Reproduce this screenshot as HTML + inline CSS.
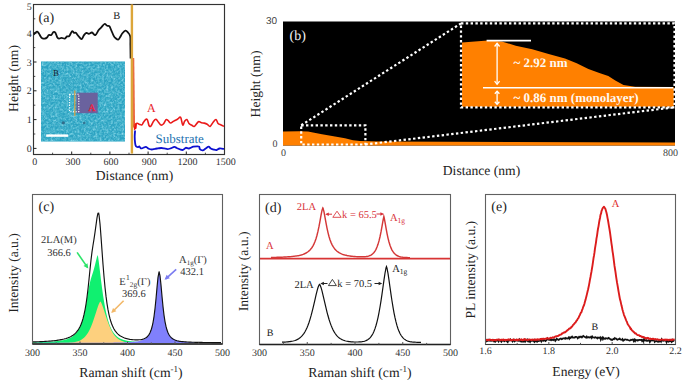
<!DOCTYPE html>
<html><head><meta charset="utf-8"><style>
html,body{margin:0;padding:0;background:#fff;}
body{width:685px;height:385px;overflow:hidden;}
svg{display:block;}
text{font-family:"Liberation Serif",serif;text-rendering:geometricPrecision;}
</style></head><body>
<svg width="685" height="385" viewBox="0 0 685 385">
<defs>
<filter id="noiseL" x="0" y="0" width="100%" height="100%"><feTurbulence type="fractalNoise" baseFrequency="0.45" numOctaves="2" seed="4" result="n"/><feColorMatrix in="n" type="matrix" values="0 0 0 0 0.36  0 0 0 0 0.78  0 0 0 0 0.90  1.8 0 0 0 -0.75"/><feComposite in2="SourceGraphic" operator="in"/></filter>
<filter id="noiseD" x="0" y="0" width="100%" height="100%"><feTurbulence type="fractalNoise" baseFrequency="0.45" numOctaves="2" seed="9" result="n"/><feColorMatrix in="n" type="matrix" values="0 0 0 0 0.08  0 0 0 0 0.52  0 0 0 0 0.64  1.8 0 0 0 -0.75"/><feComposite in2="SourceGraphic" operator="in"/></filter>
</defs>
<rect x="41" y="61.5" width="84" height="80" fill="#2ca2c2"/>
<rect x="41" y="61.5" width="84" height="80" fill="#fff" filter="url(#noiseL)" opacity="1"/>
<rect x="41" y="61.5" width="84" height="80" fill="#000" filter="url(#noiseD)" opacity="1"/>
<rect x="76.4" y="92.7" width="21.3" height="20.5" fill="#6a629e"/>
<rect x="69.6" y="94.3" width="9.2" height="17.4" fill="none" stroke="#fff" stroke-width="1.1" stroke-dasharray="1.3 1.3"/>
<line x1="74.8" y1="90.5" x2="74.8" y2="115.9" stroke="#dca040" stroke-width="1.2"/>
<text x="88.3" y="110.6" font-size="10" fill="#f0203c" stroke="#f0203c" stroke-width="0.3">A</text>
<text x="53" y="75.8" font-size="9" fill="#102030">B</text>
<rect x="46.2" y="134.4" width="22" height="2.4" fill="#fff"/>
<circle cx="63.3" cy="122.8" r="1.6" fill="#2a5a7a" opacity="0.8"/><circle cx="84.2" cy="123" r="1.3" fill="#2a5a7a" opacity="0.7"/>
<rect x="33.5" y="4.5" width="191.0" height="150.0" fill="none" stroke="#333" stroke-width="1.15"/>
<line x1="33.5" y1="148.4" x2="36.5" y2="148.4" stroke="#222" stroke-width="1"/>
<text x="31.8" y="152.0" font-size="10" fill="#333" text-anchor="end" >0</text>
<line x1="33.5" y1="119.60000000000001" x2="36.5" y2="119.60000000000001" stroke="#222" stroke-width="1"/>
<text x="31.8" y="123.2" font-size="10" fill="#333" text-anchor="end" >1</text>
<line x1="33.5" y1="90.80000000000001" x2="36.5" y2="90.80000000000001" stroke="#222" stroke-width="1"/>
<text x="31.8" y="94.4" font-size="10" fill="#333" text-anchor="end" >2</text>
<line x1="33.5" y1="62.0" x2="36.5" y2="62.0" stroke="#222" stroke-width="1"/>
<text x="31.8" y="65.6" font-size="10" fill="#333" text-anchor="end" >3</text>
<line x1="33.5" y1="33.2" x2="36.5" y2="33.2" stroke="#222" stroke-width="1"/>
<text x="31.8" y="36.800000000000004" font-size="10" fill="#333" text-anchor="end" >4</text>
<text x="31.8" y="10.000000000000005" font-size="10" fill="#333" text-anchor="end" >5</text>
<line x1="33.5" y1="134.0" x2="35.3" y2="134.0" stroke="#222" stroke-width="0.8"/>
<line x1="33.5" y1="105.2" x2="35.3" y2="105.2" stroke="#222" stroke-width="0.8"/>
<line x1="33.5" y1="76.4" x2="35.3" y2="76.4" stroke="#222" stroke-width="0.8"/>
<line x1="33.5" y1="47.60000000000001" x2="35.3" y2="47.60000000000001" stroke="#222" stroke-width="0.8"/>
<line x1="33.5" y1="18.80000000000001" x2="35.3" y2="18.80000000000001" stroke="#222" stroke-width="0.8"/>
<text x="34.7" y="164.6" font-size="10" fill="#333" text-anchor="middle" >0</text>
<line x1="71.7" y1="154.5" x2="71.7" y2="151.5" stroke="#222" stroke-width="1"/>
<text x="72.9" y="164.6" font-size="10" fill="#333" text-anchor="middle" >300</text>
<line x1="109.9" y1="154.5" x2="109.9" y2="151.5" stroke="#222" stroke-width="1"/>
<text x="111.10000000000001" y="164.6" font-size="10" fill="#333" text-anchor="middle" >600</text>
<line x1="148.1" y1="154.5" x2="148.1" y2="151.5" stroke="#222" stroke-width="1"/>
<text x="149.29999999999998" y="164.6" font-size="10" fill="#333" text-anchor="middle" >900</text>
<line x1="186.3" y1="154.5" x2="186.3" y2="151.5" stroke="#222" stroke-width="1"/>
<text x="187.5" y="164.6" font-size="10" fill="#333" text-anchor="middle" >1200</text>
<text x="225.7" y="164.6" font-size="10" fill="#333" text-anchor="middle" >1500</text>
<line x1="52.6" y1="154.5" x2="52.6" y2="152.7" stroke="#222" stroke-width="0.8"/>
<line x1="90.8" y1="154.5" x2="90.8" y2="152.7" stroke="#222" stroke-width="0.8"/>
<line x1="129.0" y1="154.5" x2="129.0" y2="152.7" stroke="#222" stroke-width="0.8"/>
<line x1="167.2" y1="154.5" x2="167.2" y2="152.7" stroke="#222" stroke-width="0.8"/>
<line x1="205.4" y1="154.5" x2="205.4" y2="152.7" stroke="#222" stroke-width="0.8"/>
<text x="38.6" y="22" font-size="14" fill="#222" text-anchor="start" >(a)</text>
<text x="113.3" y="18.8" font-size="10.5" fill="#222" text-anchor="start" >B</text>
<text x="147" y="111.6" font-size="12" fill="#e8252a" text-anchor="start" >A</text>
<text x="155.5" y="143.4" font-size="13" fill="#1d72b0" text-anchor="start" >Substrate</text>
<text x="134.5" y="179.5" font-size="13.6" fill="#222" text-anchor="middle" >Distance (nm)</text>
<text x="0" y="0" font-size="13.6" fill="#222" text-anchor="middle" transform="translate(18.2,78.5) rotate(-90)">Height (nm)</text>
<path d="M33.80,34.60 C34.05,34.30 34.75,33.28 35.30,32.80 C35.85,32.32 36.50,31.58 37.10,31.70 C37.70,31.82 38.28,32.65 38.90,33.50 C39.52,34.35 40.25,36.02 40.80,36.80 C41.35,37.58 41.53,37.90 42.20,38.20 C42.87,38.50 44.00,38.72 44.80,38.60 C45.60,38.48 46.33,38.10 47.00,37.50 C47.67,36.90 48.08,35.42 48.80,35.00 C49.52,34.58 50.52,35.50 51.30,35.00 C52.08,34.50 52.82,32.37 53.50,32.00 C54.18,31.63 54.78,31.93 55.40,32.80 C56.02,33.67 56.60,36.23 57.20,37.20 C57.80,38.17 58.27,38.48 59.00,38.60 C59.73,38.72 60.63,37.90 61.60,37.90 C62.57,37.90 63.90,38.85 64.80,38.60 C65.70,38.35 66.27,36.82 67.00,36.40 C67.73,35.98 68.35,36.95 69.20,36.10 C70.05,35.25 71.30,31.85 72.10,31.30 C72.90,30.75 73.38,32.55 74.00,32.80 C74.62,33.05 75.02,32.20 75.80,32.80 C76.58,33.40 77.73,35.35 78.70,36.40 C79.67,37.45 80.72,39.32 81.60,39.10 C82.48,38.88 83.20,36.15 84.00,35.10 C84.80,34.05 85.60,33.00 86.40,32.80 C87.20,32.60 87.87,33.95 88.80,33.90 C89.73,33.85 90.92,32.30 92.00,32.50 C93.08,32.70 94.22,35.47 95.30,35.10 C96.38,34.73 97.50,31.58 98.50,30.30 C99.50,29.02 100.30,28.45 101.30,27.40 C102.30,26.35 103.50,24.27 104.50,24.00 C105.50,23.73 106.50,25.43 107.30,25.80 C108.10,26.17 108.63,25.45 109.30,26.20 C109.97,26.95 110.57,28.68 111.30,30.30 C112.03,31.92 112.97,34.57 113.70,35.90 C114.43,37.23 114.95,37.67 115.70,38.30 C116.45,38.93 117.45,39.90 118.20,39.70 C118.95,39.50 119.53,38.13 120.20,37.10 C120.87,36.07 121.33,34.57 122.20,33.50 C123.07,32.43 124.47,30.90 125.40,30.70 C126.33,30.50 127.00,31.37 127.80,32.30 C128.60,33.23 129.77,34.18 130.20,36.30 C130.63,38.42 130.33,41.28 130.40,45.00 C130.47,48.72 130.57,56.33 130.60,58.60" fill="none" stroke="#111" stroke-width="1.8" stroke-linejoin="round"/>
<path d="M134.20,126.00 C134.35,125.73 134.58,124.85 135.10,124.40 C135.62,123.95 136.57,123.30 137.30,123.30 C138.03,123.30 138.72,124.15 139.50,124.40 C140.28,124.65 141.33,125.17 142.00,124.80 C142.67,124.43 142.82,123.12 143.50,122.20 C144.18,121.28 145.43,119.67 146.10,119.30 C146.77,118.93 147.02,118.97 147.50,120.00 C147.98,121.03 148.45,124.47 149.00,125.50 C149.55,126.53 150.07,126.87 150.80,126.20 C151.53,125.53 152.55,122.65 153.40,121.50 C154.25,120.35 155.05,119.18 155.90,119.30 C156.75,119.42 157.65,121.23 158.50,122.20 C159.35,123.17 160.15,124.85 161.00,125.10 C161.85,125.35 162.75,124.60 163.60,123.70 C164.45,122.80 165.37,120.25 166.10,119.70 C166.83,119.15 167.27,119.85 168.00,120.40 C168.73,120.95 169.53,122.88 170.50,123.00 C171.47,123.12 172.65,121.72 173.80,121.10 C174.95,120.48 176.27,119.93 177.40,119.30 C178.53,118.67 179.72,116.35 180.60,117.30 C181.48,118.25 182.03,124.33 182.70,125.00 C183.37,125.67 183.92,122.22 184.60,121.30 C185.28,120.38 186.07,119.13 186.80,119.50 C187.53,119.87 188.22,122.58 189.00,123.50 C189.78,124.42 190.60,124.52 191.50,125.00 C192.40,125.48 193.25,126.95 194.40,126.40 C195.55,125.85 197.23,122.30 198.40,121.70 C199.57,121.10 200.42,122.57 201.40,122.80 C202.38,123.03 203.33,122.87 204.30,123.10 C205.27,123.33 206.23,123.65 207.20,124.20 C208.17,124.75 209.13,126.70 210.10,126.40 C211.07,126.10 212.02,123.55 213.00,122.40 C213.98,121.25 215.15,119.32 216.00,119.50 C216.85,119.68 217.25,122.58 218.10,123.50 C218.95,124.42 220.12,124.52 221.10,125.00 C222.08,125.48 223.52,126.17 224.00,126.40" fill="none" stroke="#ea1a1a" stroke-width="1.6" stroke-linejoin="round"/>
<path d="M133.6,124.5 L137,124 L136.5,128.5 L134,130.5 Z" fill="#f01010"/>
<path d="M133.2,58 L134.2,58 L134.9,126 L133.2,128 Z" fill="#e84818"/>
<path d="M135.10,130.50 C135.03,131.53 134.70,134.63 134.70,136.70 C134.70,138.77 134.92,141.35 135.10,142.90 C135.28,144.45 135.35,145.28 135.80,146.00 C136.25,146.72 137.22,147.13 137.80,147.20 C138.38,147.27 138.78,146.20 139.30,146.40 C139.82,146.60 140.30,148.13 140.90,148.40 C141.50,148.67 142.05,148.27 142.90,148.00 C143.75,147.73 145.03,146.67 146.00,146.80 C146.97,146.93 147.73,148.35 148.70,148.80 C149.67,149.25 150.77,149.50 151.80,149.50 C152.83,149.50 153.87,148.98 154.90,148.80 C155.93,148.62 156.95,148.53 158.00,148.40 C159.05,148.27 160.15,148.00 161.20,148.00 C162.25,148.00 163.27,148.22 164.30,148.40 C165.33,148.58 166.37,149.10 167.40,149.10 C168.43,149.10 169.33,148.78 170.50,148.40 C171.67,148.02 173.37,146.87 174.40,146.80 C175.43,146.73 175.37,147.47 176.70,148.00 C178.03,148.53 180.90,150.03 182.40,150.00 C183.90,149.97 184.60,148.05 185.70,147.80 C186.80,147.55 187.73,148.68 189.00,148.50 C190.27,148.32 191.97,147.07 193.30,146.70 C194.63,146.33 196.02,146.30 197.00,146.30 C197.98,146.30 198.72,146.22 199.20,146.70 C199.68,147.18 199.30,148.60 199.90,149.20 C200.50,149.80 201.83,150.42 202.80,150.30 C203.77,150.18 204.72,149.10 205.70,148.50 C206.68,147.90 207.85,146.70 208.70,146.70 C209.55,146.70 209.95,148.02 210.80,148.50 C211.65,148.98 212.82,149.35 213.80,149.60 C214.78,149.85 215.73,150.18 216.70,150.00 C217.67,149.82 218.38,148.68 219.60,148.50 C220.82,148.32 223.27,148.83 224.00,148.90" fill="none" stroke="#0c10d0" stroke-width="1.8" stroke-linejoin="round"/>
<line x1="131.9" y1="4.4" x2="131.9" y2="153.6" stroke="#dca63a" stroke-width="2.4"/>
<rect x="283" y="21.5" width="392" height="124" fill="#000"/>
<polygon points="283.00,131.50 299.00,131.30 308.00,131.60 313.00,132.40 322.00,134.20 335.00,136.40 345.00,138.30 353.00,140.20 360.00,140.90 380.00,141.60 675.00,142.60 675.00,145.50 283.00,145.50" fill="#ff8000"/>
<polygon points="462.00,106.80 462.00,42.40 487.70,40.60 501.80,41.50 515.80,45.70 532.20,49.20 548.60,53.90 565.00,58.60 576.70,63.30 588.40,69.10 600.10,73.30 608.30,76.10 615.30,80.40 623.50,85.00 635.20,86.70 673.80,87.10 673.80,106.80 462.00,106.80" fill="#ff8000"/>
<rect x="301.2" y="125.3" width="64.2" height="19.2" stroke="#fff" stroke-width="2.2" stroke-dasharray="2.4 2.4" fill="none"/>
<line x1="301.2" y1="125.3" x2="461" y2="23.4" stroke="#fff" stroke-width="2.2" stroke-dasharray="2.4 2.4" fill="none"/>
<line x1="365.4" y1="144.5" x2="674.5" y2="107.3" stroke="#fff" stroke-width="2.2" stroke-dasharray="2.4 2.4" fill="none"/>
<rect x="461" y="23.4" width="213.5" height="84" stroke="#fff" stroke-width="2.2" stroke-dasharray="2.4 2.4" fill="none"/>
<line x1="486.6" y1="40.6" x2="531" y2="40.6" stroke="#fff" stroke-width="1.6"/>
<line x1="483" y1="87.8" x2="673" y2="87.8" stroke="#fff" stroke-width="1.6"/>
<g stroke="#fff" stroke-width="1.3" fill="none"><line x1="497.1" y1="43.4" x2="497.1" y2="84.3"/><polyline points="494.6,46.5 497.1,43.4 499.6,46.5"/><polyline points="494.6,81.2 497.1,84.3 499.6,81.2"/><line x1="497.1" y1="91.3" x2="497.1" y2="104.2"/><polyline points="494.8,93.8 497.1,91.3 499.4,93.8"/><polyline points="494.8,101.7 497.1,104.2 499.4,101.7"/></g>
<text x="513.5" y="67.2" font-size="13" fill="#fff8f0" text-anchor="start" font-weight="bold">~ 2.92 nm</text>
<text x="513.5" y="102.4" font-size="13" fill="#fff8f0" text-anchor="start" font-weight="bold">~ 0.86 nm (monolayer)</text>
<text x="289.5" y="39.5" font-size="14" fill="#f4f4f4" text-anchor="start" >(b)</text>
<text x="277.2" y="23.9" font-size="10" fill="#444" text-anchor="end" style="font-family:'Liberation Sans',sans-serif">30</text>
<text x="277.4" y="146.8" font-size="10" fill="#444" text-anchor="end" >0</text>
<text x="283.5" y="155.6" font-size="10" fill="#444" text-anchor="middle" >0</text>
<text x="670.6" y="156.4" font-size="10" fill="#444" text-anchor="middle" >800</text>
<text x="481.5" y="174.7" font-size="13.6" fill="#222" text-anchor="middle" >Distance (nm)</text>
<text x="0" y="0" font-size="13.6" fill="#222" text-anchor="middle" transform="translate(260.2,84) rotate(-90)">Height (nm)</text>
<polygon points="33.00,342.90 33.00,342.28 34.00,342.26 35.00,342.24 36.00,342.21 37.00,342.19 38.00,342.16 39.00,342.13 40.00,342.10 41.00,342.07 42.00,342.04 43.00,342.00 44.00,341.97 45.00,341.92 46.00,341.88 47.00,341.83 48.00,341.78 49.00,341.73 50.00,341.67 51.00,341.61 52.00,341.54 53.00,341.46 54.00,341.38 55.00,341.29 56.00,341.20 57.00,341.09 58.00,340.97 59.00,340.84 60.00,340.70 61.00,340.55 62.00,340.37 63.00,340.18 64.00,339.96 65.00,339.71 66.00,339.44 67.00,339.13 68.00,338.77 69.00,338.37 70.00,337.91 71.00,337.39 72.00,336.78 73.00,336.08 74.00,335.27 75.00,334.33 76.00,333.22 77.00,331.93 78.00,330.40 79.00,328.60 80.00,326.69 81.00,324.48 82.00,321.83 83.00,318.63 84.00,314.74 85.00,310.00 86.00,304.23 87.00,297.72 88.00,292.05 89.00,286.76 90.00,282.19 91.00,278.45 92.00,275.27 93.00,272.18 94.00,268.81 95.00,264.96 96.00,260.76 97.00,256.81 97.78,255.09 98.00,256.15 98.67,260.81 99.00,263.38 100.00,271.67 100.35,274.56 101.00,279.94 102.00,287.76 103.00,294.92 104.00,301.35 105.00,307.03 106.00,312.00 107.00,316.30 108.00,320.01 109.00,323.20 110.00,325.92 111.00,328.24 112.00,330.22 113.00,331.91 114.00,333.34 115.00,334.56 116.00,335.61 117.00,336.49 118.00,337.25 119.00,337.90 120.00,338.46 121.00,338.94 122.00,339.35 123.00,339.71 124.00,340.02 125.00,340.29 126.00,340.52 127.00,340.72 128.00,340.90 129.00,341.06 130.00,341.20 131.00,341.32 132.00,341.43 133.00,341.53 134.00,341.62 135.00,341.70 136.00,341.77 137.00,341.83 138.00,341.89 139.00,341.94 140.00,341.99 141.00,342.04 142.00,342.08 143.00,342.11 144.00,342.15 145.00,342.18 146.00,342.21 147.00,342.24 148.00,342.26 149.00,342.29 150.00,342.31 151.00,342.33 152.00,342.35 153.00,342.37 154.00,342.39 155.00,342.40 156.00,342.42 157.00,342.43 158.00,342.45 159.00,342.46 159.11,342.46 159.12,342.46 160.00,342.47 161.00,342.48 162.00,342.50 163.00,342.51 164.00,342.52 165.00,342.53 166.00,342.54 167.00,342.55 168.00,342.55 169.00,342.56 170.00,342.57 171.00,342.58 172.00,342.59 173.00,342.59 174.00,342.60 175.00,342.61 176.00,342.61 177.00,342.62 178.00,342.63 179.00,342.63 180.00,342.64 181.00,342.64 182.00,342.65 183.00,342.65 184.00,342.66 185.00,342.66 186.00,342.67 187.00,342.67 188.00,342.68 189.00,342.68 190.00,342.68 191.00,342.69 192.00,342.69 193.00,342.70 194.00,342.70 195.00,342.70 196.00,342.71 197.00,342.71 198.00,342.71 199.00,342.72 200.00,342.72 201.00,342.72 202.00,342.73 203.00,342.73 204.00,342.73 205.00,342.73 206.00,342.74 207.00,342.74 208.00,342.74 209.00,342.74 210.00,342.75 211.00,342.75 212.00,342.75 213.00,342.75 214.00,342.76 215.00,342.76 216.00,342.76 217.00,342.76 218.00,342.76 219.00,342.77 220.00,342.77 221.00,342.77 221.00,342.90" fill="#10f070"/>
<polygon points="33.00,342.90 33.00,342.90 34.00,342.90 35.00,342.90 36.00,342.90 37.00,342.90 38.00,342.90 39.00,342.90 40.00,342.90 41.00,342.90 42.00,342.90 43.00,342.90 44.00,342.90 45.00,342.90 46.00,342.90 47.00,342.90 48.00,342.90 49.00,342.90 50.00,342.90 51.00,342.90 52.00,342.90 53.00,342.89 54.00,342.89 55.00,342.89 56.00,342.89 57.00,342.88 58.00,342.88 59.00,342.88 60.00,342.87 61.00,342.86 62.00,342.85 63.00,342.84 64.00,342.82 65.00,342.80 66.00,342.78 67.00,342.75 68.00,342.71 69.00,342.66 70.00,342.60 71.00,342.52 72.00,342.43 73.00,342.32 74.00,342.19 75.00,342.02 76.00,341.81 77.00,341.57 78.00,341.27 79.00,340.91 80.00,340.47 81.00,339.95 82.00,339.34 83.00,338.61 84.00,337.75 85.00,336.74 86.00,335.56 87.00,334.21 88.00,332.65 89.00,330.88 90.00,328.88 91.00,326.65 92.00,324.18 93.00,321.50 94.00,318.61 95.00,315.58 96.00,312.45 97.00,309.33 97.78,306.99 98.00,306.36 98.67,304.53 99.00,303.73 100.00,301.82 100.35,301.50 101.00,302.29 102.00,304.48 103.00,307.24 104.00,310.28 105.00,313.42 106.00,316.52 107.00,319.52 108.00,322.35 109.00,324.97 110.00,327.36 111.00,329.52 112.00,331.45 113.00,333.15 114.00,334.65 115.00,335.94 116.00,337.06 117.00,338.02 118.00,338.84 119.00,339.54 120.00,340.12 121.00,340.61 122.00,341.02 123.00,341.37 124.00,341.65 125.00,341.88 126.00,342.07 127.00,342.23 128.00,342.36 129.00,342.46 130.00,342.55 131.00,342.62 132.00,342.67 133.00,342.72 134.00,342.76 135.00,342.78 136.00,342.81 137.00,342.83 138.00,342.84 139.00,342.85 140.00,342.86 141.00,342.87 142.00,342.88 143.00,342.88 144.00,342.89 145.00,342.89 146.00,342.89 147.00,342.89 148.00,342.89 149.00,342.90 150.00,342.90 151.00,342.90 152.00,342.90 153.00,342.90 154.00,342.90 155.00,342.90 156.00,342.90 157.00,342.90 158.00,342.90 159.00,342.90 159.11,342.90 159.12,342.90 160.00,342.90 161.00,342.90 162.00,342.90 163.00,342.90 164.00,342.90 165.00,342.90 166.00,342.90 167.00,342.90 168.00,342.90 169.00,342.90 170.00,342.90 171.00,342.90 172.00,342.90 173.00,342.90 174.00,342.90 175.00,342.90 176.00,342.90 177.00,342.90 178.00,342.90 179.00,342.90 180.00,342.90 181.00,342.90 182.00,342.90 183.00,342.90 184.00,342.90 185.00,342.90 186.00,342.90 187.00,342.90 188.00,342.90 189.00,342.90 190.00,342.90 191.00,342.90 192.00,342.90 193.00,342.90 194.00,342.90 195.00,342.90 196.00,342.90 197.00,342.90 198.00,342.90 199.00,342.90 200.00,342.90 201.00,342.90 202.00,342.90 203.00,342.90 204.00,342.90 205.00,342.90 206.00,342.90 207.00,342.90 208.00,342.90 209.00,342.90 210.00,342.90 211.00,342.90 212.00,342.90 213.00,342.90 214.00,342.90 215.00,342.90 216.00,342.90 217.00,342.90 218.00,342.90 219.00,342.90 220.00,342.90 221.00,342.90 221.00,342.90" fill="#fdd07e"/>
<polygon points="33.00,342.90 33.00,342.88 34.00,342.88 35.00,342.88 36.00,342.87 37.00,342.87 38.00,342.87 39.00,342.87 40.00,342.87 41.00,342.87 42.00,342.87 43.00,342.87 44.00,342.87 45.00,342.87 46.00,342.87 47.00,342.87 48.00,342.87 49.00,342.87 50.00,342.87 51.00,342.87 52.00,342.86 53.00,342.86 54.00,342.86 55.00,342.86 56.00,342.86 57.00,342.86 58.00,342.86 59.00,342.86 60.00,342.86 61.00,342.86 62.00,342.86 63.00,342.85 64.00,342.85 65.00,342.85 66.00,342.85 67.00,342.85 68.00,342.85 69.00,342.85 70.00,342.85 71.00,342.84 72.00,342.84 73.00,342.84 74.00,342.84 75.00,342.84 76.00,342.84 77.00,342.83 78.00,342.83 79.00,342.83 80.00,342.83 81.00,342.82 82.00,342.82 83.00,342.82 84.00,342.82 85.00,342.81 86.00,342.81 87.00,342.81 88.00,342.81 89.00,342.80 90.00,342.80 91.00,342.80 92.00,342.79 93.00,342.79 94.00,342.78 95.00,342.78 96.00,342.77 97.00,342.77 97.78,342.77 98.00,342.76 98.67,342.76 99.00,342.76 100.00,342.75 100.35,342.75 101.00,342.75 102.00,342.74 103.00,342.73 104.00,342.73 105.00,342.72 106.00,342.71 107.00,342.70 108.00,342.69 109.00,342.68 110.00,342.67 111.00,342.66 112.00,342.65 113.00,342.63 114.00,342.62 115.00,342.60 116.00,342.59 117.00,342.57 118.00,342.55 119.00,342.53 120.00,342.50 121.00,342.48 122.00,342.45 123.00,342.42 124.00,342.39 125.00,342.35 126.00,342.31 127.00,342.27 128.00,342.22 129.00,342.16 130.00,342.10 131.00,342.03 132.00,341.96 133.00,341.87 134.00,341.77 135.00,341.66 136.00,341.53 137.00,341.38 138.00,341.21 139.00,341.01 140.00,340.78 141.00,340.50 142.00,340.18 143.00,339.79 144.00,339.31 145.00,338.73 146.00,338.02 147.00,337.13 148.00,336.00 149.00,334.55 150.00,332.68 151.00,330.21 152.00,326.93 153.00,322.52 154.00,316.60 155.00,308.76 156.00,298.83 157.00,287.48 158.00,277.12 159.00,271.92 159.11,271.86 159.12,271.86 160.00,275.41 161.00,285.05 162.00,296.46 163.00,306.80 164.00,315.09 165.00,321.39 166.00,326.09 167.00,329.59 168.00,332.21 169.00,334.19 170.00,335.72 171.00,336.91 172.00,337.84 173.00,338.59 174.00,339.20 175.00,339.69 176.00,340.10 177.00,340.44 178.00,340.72 179.00,340.97 180.00,341.17 181.00,341.35 182.00,341.50 183.00,341.63 184.00,341.75 185.00,341.85 186.00,341.94 187.00,342.02 188.00,342.09 189.00,342.15 190.00,342.21 191.00,342.26 192.00,342.30 193.00,342.34 194.00,342.38 195.00,342.41 196.00,342.44 197.00,342.47 198.00,342.50 199.00,342.52 200.00,342.54 201.00,342.56 202.00,342.58 203.00,342.60 204.00,342.61 205.00,342.63 206.00,342.64 207.00,342.66 208.00,342.67 209.00,342.68 210.00,342.69 211.00,342.70 212.00,342.71 213.00,342.72 214.00,342.72 215.00,342.73 216.00,342.74 217.00,342.75 218.00,342.75 219.00,342.76 220.00,342.76 221.00,342.77 221.00,342.90" fill="#8080fc"/>
<path d="M33.00,341.93 L34.00,341.90 L35.00,341.86 L36.00,341.83 L37.00,341.79 L38.00,341.75 L39.00,341.71 L40.00,341.67 L41.00,341.63 L42.00,341.58 L43.00,341.53 L44.00,341.47 L45.00,341.42 L46.00,341.36 L47.00,341.29 L48.00,341.22 L49.00,341.15 L50.00,341.07 L51.00,340.99 L52.00,340.90 L53.00,340.80 L54.00,340.70 L55.00,340.58 L56.00,340.46 L57.00,340.33 L58.00,340.19 L59.00,340.04 L60.00,339.87 L61.00,339.69 L62.00,339.49 L63.00,339.27 L64.00,339.03 L65.00,338.76 L66.00,338.47 L67.00,338.14 L68.00,337.78 L69.00,337.38 L70.00,336.92 L71.00,336.41 L72.00,335.84 L73.00,335.18 L74.00,334.44 L75.00,333.58 L76.00,332.59 L77.00,331.45 L78.00,330.11 L79.00,328.54 L80.00,326.69 L81.00,324.48 L82.00,321.83 L83.00,318.63 L84.00,314.74 L85.00,310.00 L86.00,304.23 L87.00,297.24 L88.00,288.95 L89.00,279.53 L90.00,269.55 L91.00,260.04 L92.00,251.93 L93.00,245.28 L94.00,239.12 L95.00,232.43 L96.00,225.05 L97.00,217.97 L97.78,214.00 L98.00,213.34 L98.67,213.22 L99.00,214.78 L100.00,223.86 L100.35,228.00 L101.00,236.63 L102.00,250.64 L103.00,264.26 L104.00,276.57 L105.00,287.20 L106.00,296.15 L107.00,303.56 L108.00,309.64 L109.00,314.62 L110.00,318.70 L111.00,322.06 L112.00,324.83 L113.00,327.12 L114.00,329.03 L115.00,330.64 L116.00,331.99 L117.00,333.14 L118.00,334.12 L119.00,334.96 L120.00,335.68 L121.00,336.31 L122.00,336.85 L123.00,337.32 L124.00,337.73 L125.00,338.09 L126.00,338.41 L127.00,338.68 L128.00,338.92 L129.00,339.13 L130.00,339.31 L131.00,339.46 L132.00,339.59 L133.00,339.70 L134.00,339.78 L135.00,339.83 L136.00,339.87 L137.00,339.87 L138.00,339.85 L139.00,339.79 L140.00,339.70 L141.00,339.56 L142.00,339.37 L143.00,339.11 L144.00,338.77 L145.00,338.31 L146.00,337.72 L147.00,336.95 L148.00,335.93 L149.00,334.57 L150.00,332.76 L151.00,330.32 L152.00,327.03 L153.00,322.56 L154.00,316.55 L155.00,308.65 L156.00,298.78 L157.00,287.65 L158.00,277.43 L159.00,271.95 L159.11,271.86 L159.12,271.86 L160.00,275.55 L161.00,285.09 L162.00,296.32 L163.00,306.65 L164.00,315.09 L165.00,321.59 L166.00,326.45 L167.00,330.06 L168.00,332.74 L169.00,334.75 L170.00,336.26 L171.00,337.42 L172.00,338.32 L173.00,339.03 L174.00,339.58 L175.00,340.03 L176.00,340.39 L177.00,340.69 L178.00,340.94 L179.00,341.14 L180.00,341.31 L181.00,341.46 L182.00,341.58 L183.00,341.69 L184.00,341.78 L185.00,341.86 L186.00,341.93 L187.00,342.00 L188.00,342.05 L189.00,342.10 L190.00,342.14 L191.00,342.18 L192.00,342.22 L193.00,342.25 L194.00,342.28 L195.00,342.31 L196.00,342.33 L197.00,342.35 L198.00,342.37 L199.00,342.39 L200.00,342.41 L201.00,342.43 L202.00,342.44 L203.00,342.46 L204.00,342.47 L205.00,342.48 L206.00,342.50 L207.00,342.51 L208.00,342.52 L209.00,342.53 L210.00,342.54 L211.00,342.55 L212.00,342.55 L213.00,342.56 L214.00,342.57 L215.00,342.58 L216.00,342.59 L217.00,342.59 L218.00,342.60 L219.00,342.60 L220.00,342.61 L221.00,342.62" fill="none" stroke="#111" stroke-width="1.15" stroke-linejoin="miter" stroke-miterlimit="10"/>
<rect x="32.5" y="194.5" width="190.0" height="149.5" fill="none" stroke="#606060" stroke-width="1.1"/>
<line x1="32.5" y1="344.0" x2="222.5" y2="344.0" stroke="#222" stroke-width="1.3"/>
<text x="32.5" y="355.9" font-size="10" fill="#333" text-anchor="middle" >300</text>
<line x1="56.25" y1="344.0" x2="56.25" y2="342.4" stroke="#555" stroke-width="1"/>
<line x1="80.0" y1="344.0" x2="80.0" y2="341.5" stroke="#555" stroke-width="1"/>
<text x="80.0" y="355.9" font-size="10" fill="#333" text-anchor="middle" >350</text>
<line x1="103.75" y1="344.0" x2="103.75" y2="342.4" stroke="#555" stroke-width="1"/>
<line x1="127.5" y1="344.0" x2="127.5" y2="341.5" stroke="#555" stroke-width="1"/>
<text x="127.5" y="355.9" font-size="10" fill="#333" text-anchor="middle" >400</text>
<line x1="151.25" y1="344.0" x2="151.25" y2="342.4" stroke="#555" stroke-width="1"/>
<line x1="175.0" y1="344.0" x2="175.0" y2="341.5" stroke="#555" stroke-width="1"/>
<text x="175.0" y="355.9" font-size="10" fill="#333" text-anchor="middle" >450</text>
<line x1="198.75" y1="344.0" x2="198.75" y2="342.4" stroke="#555" stroke-width="1"/>
<text x="222.5" y="355.9" font-size="10" fill="#333" text-anchor="middle" >500</text>
<text x="38.6" y="210.6" font-size="14" fill="#222" text-anchor="start" >(c)</text>
<text x="41.1" y="243.4" font-size="10.5" fill="#333" text-anchor="start" >2LA(M)</text>
<text x="47.2" y="256.1" font-size="10.5" fill="#333" text-anchor="start" >366.6</text>
<text x="119.2" y="284.6" font-size="10.5" fill="#333" text-anchor="start" >E<tspan font-size="7.5" dy="-4.2" dx="0.5">1</tspan><tspan font-size="7.5" dy="6.2">2g</tspan><tspan dy="-2">(Γ)</tspan></text>
<text x="122.1" y="297.4" font-size="10.5" fill="#333" text-anchor="start" >369.6</text>
<text x="179.1" y="262.6" font-size="10.5" fill="#333" text-anchor="start" >A<tspan font-size="7" dy="2">1g</tspan><tspan dy="-2">(Γ)</tspan></text>
<text x="180.3" y="274.9" font-size="10.5" fill="#333" text-anchor="start" >432.1</text>
<line x1="77.1" y1="252.4" x2="87.45" y2="267.37" stroke="#2ee46a" stroke-width="1.6"/>
<polygon points="88.3,268.6 83.52,265.89 87.45,263.17" fill="#2ee46a"/>
<line x1="123.6" y1="300.7" x2="112.26" y2="312.04" stroke="#f2b868" stroke-width="1.6"/>
<polygon points="111.2,313.1 113.01,307.91 116.39,311.29" fill="#f2b868"/>
<line x1="176.2" y1="269.3" x2="165.71" y2="278.79" stroke="#7b7cf0" stroke-width="1.6"/>
<polygon points="164.6,279.8 166.67,274.70 169.88,278.25" fill="#7b7cf0"/>
<text x="131" y="376.6" font-size="13.7" fill="#222" text-anchor="middle" >Raman shift (cm<tspan font-size="9" dy="-5">-1</tspan><tspan dy="5">)</tspan></text>
<text x="0" y="0" font-size="13.6" fill="#222" text-anchor="middle" transform="translate(18.0,273) rotate(-90)">Intensity (a.u.)</text>
<line x1="259.5" y1="258.7" x2="450.5" y2="258.7" stroke="#d83434" stroke-width="1.7"/>
<path d="M271.00,257.47 L272.00,257.45 L273.00,257.43 L274.00,257.41 L275.00,257.38 L276.00,257.36 L277.00,257.33 L278.00,257.30 L279.00,257.27 L280.00,257.23 L281.00,257.20 L282.00,257.16 L283.00,257.11 L284.00,257.07 L285.00,257.02 L286.00,256.96 L287.00,256.90 L288.00,256.83 L289.00,256.76 L290.00,256.68 L291.00,256.60 L292.00,256.50 L293.00,256.40 L294.00,256.28 L295.00,256.15 L296.00,256.01 L297.00,255.85 L298.00,255.67 L299.00,255.47 L300.00,255.24 L301.00,254.98 L302.00,254.69 L303.00,254.36 L304.00,253.97 L305.00,253.53 L306.00,253.02 L307.00,252.43 L308.00,251.74 L309.00,250.93 L310.00,249.97 L311.00,248.83 L312.00,247.47 L313.00,245.85 L314.00,243.89 L315.00,241.53 L316.00,238.68 L317.00,235.25 L318.00,231.18 L319.00,226.42 L320.00,221.07 L321.00,215.45 L322.00,210.38 L322.83,207.94 L323.00,208.15 L324.00,211.92 L325.00,217.31 L326.00,222.90 L327.00,228.08 L328.00,232.61 L329.00,236.46 L330.00,239.68 L331.00,242.36 L332.00,244.58 L333.00,246.42 L334.00,247.95 L335.00,249.23 L336.00,250.31 L337.00,251.21 L338.00,251.98 L339.00,252.64 L340.00,253.20 L341.00,253.68 L342.00,254.10 L343.00,254.47 L344.00,254.79 L345.00,255.07 L346.00,255.31 L347.00,255.53 L348.00,255.72 L349.00,255.89 L350.00,256.04 L351.00,256.18 L352.00,256.30 L353.00,256.40 L354.00,256.50 L355.00,256.58 L356.00,256.65 L357.00,256.71 L358.00,256.76 L359.00,256.80 L360.00,256.82 L361.00,256.83 L362.00,256.83 L363.00,256.81 L364.00,256.76 L365.00,256.68 L366.00,256.57 L367.00,256.42 L368.00,256.20 L369.00,255.92 L370.00,255.54 L371.00,255.04 L372.00,254.39 L373.00,253.55 L374.00,252.47 L375.00,251.09 L376.00,249.33 L377.00,247.10 L378.00,244.33 L379.00,240.91 L380.00,236.77 L381.00,231.88 L382.00,226.34 L383.00,220.52 L383.87,216.44 L384.00,216.85 L385.00,222.11 L386.00,227.94 L387.00,233.34 L388.00,238.06 L389.00,242.02 L390.00,245.28 L391.00,247.92 L392.00,250.04 L393.00,251.71 L394.00,253.04 L395.00,254.08 L396.00,254.89 L397.00,255.52 L398.00,256.01 L399.00,256.40 L400.00,256.70 L401.00,256.93 L402.00,257.11 L403.00,257.26 L404.00,257.37 L405.00,257.46 L406.00,257.52 L407.00,257.58 L408.00,257.62 L409.00,257.66 L410.00,257.68" fill="none" stroke="#d43838" stroke-width="1.45" stroke-miterlimit="10"/>
<path d="M282.00,342.19 L283.00,342.15 L284.00,342.10 L285.00,342.05 L286.00,341.98 L287.00,341.91 L288.00,341.82 L289.00,341.71 L290.00,341.58 L291.00,341.42 L292.00,341.24 L293.00,341.02 L294.00,340.76 L295.00,340.45 L296.00,340.08 L297.00,339.64 L298.00,339.12 L299.00,338.50 L300.00,337.77 L301.00,336.90 L302.00,335.89 L303.00,334.70 L304.00,333.31 L305.00,331.70 L306.00,329.83 L307.00,327.68 L308.00,325.24 L309.00,322.47 L310.00,319.36 L311.00,315.93 L312.00,312.17 L313.00,308.14 L314.00,303.89 L315.00,299.52 L316.00,295.19 L317.00,291.10 L318.00,287.54 L319.00,284.95 L319.52,284.33 L320.00,284.89 L321.00,287.42 L322.00,290.96 L323.00,295.03 L324.00,299.36 L325.00,303.73 L326.00,307.98 L327.00,312.03 L328.00,315.79 L329.00,319.24 L330.00,322.36 L331.00,325.14 L332.00,327.60 L333.00,329.75 L334.00,331.63 L335.00,333.25 L336.00,334.65 L337.00,335.85 L338.00,336.87 L339.00,337.74 L340.00,338.47 L341.00,339.09 L342.00,339.62 L343.00,340.06 L344.00,340.43 L345.00,340.74 L346.00,341.00 L347.00,341.22 L348.00,341.40 L349.00,341.56 L350.00,341.68 L351.00,341.78 L352.00,341.86 L353.00,341.93 L354.00,341.98 L355.00,342.01 L356.00,342.02 L357.00,342.02 L358.00,342.01 L359.00,341.97 L360.00,341.91 L361.00,341.82 L362.00,341.69 L363.00,341.52 L364.00,341.30 L365.00,341.01 L366.00,340.64 L367.00,340.16 L368.00,339.56 L369.00,338.80 L370.00,337.85 L371.00,336.67 L372.00,335.21 L373.00,333.43 L374.00,331.25 L375.00,328.64 L376.00,325.51 L377.00,321.83 L378.00,317.53 L379.00,312.59 L380.00,306.99 L381.00,300.79 L382.00,294.06 L383.00,287.00 L384.00,279.90 L385.00,273.26 L386.00,267.98 L386.48,266.60 L387.00,268.12 L388.00,273.47 L389.00,280.14 L390.00,287.24 L391.00,294.30 L392.00,301.01 L393.00,307.20 L394.00,312.77 L395.00,317.69 L396.00,321.97 L397.00,325.64 L398.00,328.75 L399.00,331.35 L400.00,333.51 L401.00,335.29 L402.00,336.74 L403.00,337.91 L404.00,338.86 L405.00,339.62 L406.00,340.23 L407.00,340.70 L408.00,341.08 L409.00,341.38 L410.00,341.61 L411.00,341.79 L412.00,341.93 L413.00,342.04 L414.00,342.13 L415.00,342.19 L416.00,342.24 L417.00,342.28 L418.00,342.31 L419.00,342.33 L420.00,342.35 L421.00,342.36" fill="none" stroke="#111" stroke-width="1.2" stroke-miterlimit="10"/>
<rect x="259.5" y="194.5" width="191.0" height="150.0" fill="none" stroke="#606060" stroke-width="1.1"/>
<line x1="259.5" y1="344.5" x2="450.5" y2="344.5" stroke="#222" stroke-width="1.3"/>
<text x="259.5" y="355.6" font-size="10" fill="#333" text-anchor="middle" >300</text>
<line x1="283.375" y1="344.5" x2="283.375" y2="342.9" stroke="#555" stroke-width="1"/>
<line x1="307.25" y1="344.5" x2="307.25" y2="342.0" stroke="#555" stroke-width="1"/>
<text x="307.25" y="355.6" font-size="10" fill="#333" text-anchor="middle" >350</text>
<line x1="331.125" y1="344.5" x2="331.125" y2="342.9" stroke="#555" stroke-width="1"/>
<line x1="355.0" y1="344.5" x2="355.0" y2="342.0" stroke="#555" stroke-width="1"/>
<text x="355.0" y="355.6" font-size="10" fill="#333" text-anchor="middle" >400</text>
<line x1="378.875" y1="344.5" x2="378.875" y2="342.9" stroke="#555" stroke-width="1"/>
<line x1="402.75" y1="344.5" x2="402.75" y2="342.0" stroke="#555" stroke-width="1"/>
<text x="402.75" y="355.6" font-size="10" fill="#333" text-anchor="middle" >450</text>
<line x1="426.625" y1="344.5" x2="426.625" y2="342.9" stroke="#555" stroke-width="1"/>
<text x="450.5" y="355.6" font-size="10" fill="#333" text-anchor="middle" >500</text>
<text x="265" y="212" font-size="14" fill="#222" text-anchor="start" >(d)</text>
<text x="296.8" y="210.3" font-size="10.5" fill="#d83038" text-anchor="start" >2LA</text>
<polygon points="332.8,217.3 341.2,217.3 337,211.2" fill="none" stroke="#d83038" stroke-width="0.85"/>
<text x="342" y="217.5" font-size="10.5" fill="#d83038" text-anchor="start" >k = 65.5</text>
<line x1="332" y1="214.2" x2="326.70" y2="214.20" stroke="#d83038" stroke-width="1"/>
<polygon points="325.2,214.2 328.80,212.46 328.80,215.94" fill="#d83038"/>
<line x1="376.5" y1="214" x2="382.50" y2="214.00" stroke="#d83038" stroke-width="1"/>
<polygon points="384,214 380.40,215.74 380.40,212.26" fill="#d83038"/>
<text x="390" y="221" font-size="10.5" fill="#d83038" text-anchor="start" >A<tspan font-size="7.5" dy="2">1g</tspan></text>
<text x="266" y="249.2" font-size="10.5" fill="#d83038" text-anchor="start" >A</text>
<text x="294.4" y="287.8" font-size="10.5" fill="#222" text-anchor="start" >2LA</text>
<polygon points="328.4,285.6 336.4,285.6 332.4,279.4" fill="none" stroke="#222" stroke-width="0.85"/>
<text x="337.3" y="287.4" font-size="10.5" fill="#222" text-anchor="start" >k = 70.5</text>
<line x1="327.5" y1="283.5" x2="321.80" y2="283.50" stroke="#222" stroke-width="1"/>
<polygon points="320.3,283.5 323.90,281.76 323.90,285.24" fill="#222"/>
<line x1="374.5" y1="283.5" x2="380.70" y2="283.50" stroke="#222" stroke-width="1"/>
<polygon points="382.2,283.5 378.60,285.24 378.60,281.76" fill="#222"/>
<text x="392.2" y="271.5" font-size="10.5" fill="#222" text-anchor="start" >A<tspan font-size="7.5" dy="2">1g</tspan></text>
<text x="266.7" y="335.5" font-size="10" fill="#222" text-anchor="start" >B</text>
<text x="360" y="376.6" font-size="13.7" fill="#222" text-anchor="middle" >Raman shift (cm<tspan font-size="9" dy="-5">-1</tspan><tspan dy="5">)</tspan></text>
<text x="0" y="0" font-size="13.6" fill="#222" text-anchor="middle" transform="translate(248,271.4) rotate(-90)">Intensity (a.u.)</text>
<path d="M486.00,341.97 L486.70,341.16 L487.40,340.96 L488.10,339.78 L488.80,340.73 L489.50,340.69 L490.20,340.85 L490.90,340.52 L491.60,340.87 L492.30,340.61 L493.00,340.11 L493.70,341.43 L494.40,341.43 L495.10,341.93 L495.80,340.93 L496.50,340.66 L497.20,340.57 L497.90,339.97 L498.60,341.49 L499.30,340.24 L500.00,340.19 L500.70,340.78 L501.40,341.79 L502.10,341.04 L502.80,340.29 L503.50,340.47 L504.20,341.27 L504.90,340.80 L505.60,340.44 L506.30,340.76 L507.00,341.35 L507.70,342.08 L508.40,340.15 L509.10,340.52 L509.80,340.42 L510.50,339.45 L511.20,340.34 L511.90,340.28 L512.60,341.57 L513.30,340.82 L514.00,339.92 L514.70,341.28 L515.40,340.68 L516.10,339.85 L516.80,340.53 L517.50,340.54 L518.20,340.37 L518.90,340.91 L519.60,339.54 L520.30,340.73 L521.00,341.49 L521.70,341.39 L522.40,341.55 L523.10,341.55 L523.80,341.77 L524.50,340.20 L525.20,341.38 L525.90,339.75 L526.60,340.50 L527.30,339.71 L528.00,341.48 L528.70,341.64 L529.40,340.72 L530.10,341.89 L530.80,340.42 L531.50,340.90 L532.20,340.89 L532.90,340.15 L533.60,341.04 L534.30,341.93 L535.00,340.14 L535.70,341.28 L536.40,340.63 L537.10,341.77 L537.80,340.98 L538.50,341.07 L539.20,341.03 L539.90,340.77 L540.60,339.76 L541.30,341.41 L542.00,339.72 L542.70,340.66 L543.40,340.85 L544.10,339.94 L544.80,340.50 L545.50,341.07 L546.20,340.31 L546.90,339.75 L547.60,338.49 L548.30,339.61 L549.00,339.78 L549.70,339.78 L550.40,339.45 L551.10,340.20 L551.80,339.57 L552.50,339.78 L553.20,340.19 L553.90,339.20 L554.60,339.46 L555.30,340.87 L556.00,340.02 L556.70,338.64 L557.40,339.29 L558.10,339.60 L558.80,339.92 L559.50,339.18 L560.20,338.69 L560.90,338.48 L561.60,339.22 L562.30,338.93 L563.00,338.35 L563.70,338.46 L564.40,338.23 L565.10,338.83 L565.80,337.89 L566.50,338.51 L567.20,338.64 L567.90,338.33 L568.60,337.46 L569.30,338.68 L570.00,337.39 L570.70,337.97 L571.40,337.19 L572.10,336.52 L572.80,337.63 L573.50,337.60 L574.20,337.32 L574.90,337.48 L575.60,336.87 L576.30,336.76 L577.00,337.06 L577.70,338.26 L578.40,337.57 L579.10,336.74 L579.80,337.36 L580.50,336.71 L581.20,336.71 L581.90,337.49 L582.60,336.65 L583.30,335.96 L584.00,336.42 L584.70,337.03 L585.40,337.07 L586.10,337.75 L586.80,336.60 L587.50,337.50 L588.20,337.34 L588.90,337.03 L589.60,337.66 L590.30,337.50 L591.00,336.73 L591.70,337.95 L592.40,336.62 L593.10,337.45 L593.80,337.47 L594.50,337.78 L595.20,337.16 L595.90,337.63 L596.60,337.64 L597.30,338.38 L598.00,337.38 L598.70,337.96 L599.40,337.83 L600.10,337.28 L600.80,339.73 L601.50,338.15 L602.20,337.37 L602.90,339.17 L603.60,337.75 L604.30,338.68 L605.00,339.04 L605.70,338.19 L606.40,338.39 L607.10,338.38 L607.80,338.68 L608.50,337.84 L609.20,338.13 L609.90,338.84 L610.60,339.60 L611.30,339.40 L612.00,340.11 L612.70,339.53 L613.40,338.85 L614.10,339.12 L614.80,338.02 L615.50,338.70 L616.20,338.70 L616.90,339.51 L617.60,339.76 L618.30,339.07 L619.00,339.08 L619.70,338.54 L620.40,339.42 L621.10,339.67 L621.80,339.81 L622.50,339.10 L623.20,340.79 L623.90,340.34 L624.60,339.58 L625.30,339.35 L626.00,339.49 L626.70,339.80 L627.40,339.72 L628.10,340.04 L628.80,340.23 L629.50,340.61 L630.20,340.50 L630.90,339.76 L631.60,340.08 L632.30,339.64 L633.00,339.54 L633.70,341.05 L634.40,339.65 L635.10,341.14 L635.80,339.76 L636.50,340.14 L637.20,340.66 L637.90,340.05 L638.60,340.29 L639.30,339.93 L640.00,339.81 L640.70,340.02 L641.40,339.75 L642.10,341.14 L642.80,340.08 L643.50,341.24 L644.20,338.61 L644.90,340.26 L645.60,340.60 L646.30,340.11 L647.00,340.97 L647.70,340.71 L648.40,340.19 L649.10,340.63 L649.80,342.08 L650.50,340.56 L651.20,340.61 L651.90,340.19 L652.60,340.55 L653.30,339.71 L654.00,340.39 L654.70,342.00 L655.40,341.18 L656.10,340.94 L656.80,341.24 L657.50,341.72 L658.20,340.96 L658.90,341.86 L659.60,341.28 L660.30,340.75 L661.00,341.69 L661.70,339.26 L662.40,340.35 L663.10,340.86 L663.80,340.16 L664.50,340.63 L665.20,340.35 L665.90,340.35 L666.60,342.38 L667.30,341.14 L668.00,340.74 L668.70,341.57 L669.40,340.65 L670.10,341.33 L670.80,341.01 L671.50,341.79 L672.20,339.96 L672.90,341.28 L673.60,340.90 L674.30,340.14" fill="none" stroke="#111" stroke-width="1.7"/>
<path d="M486.00,340.17 L486.50,339.68 L487.00,340.30 L487.50,340.03 L488.00,340.07 L488.50,339.92 L489.00,340.13 L489.50,339.43 L490.00,339.92 L490.50,339.74 L491.00,339.97 L491.50,339.89 L492.00,340.05 L492.50,339.69 L493.00,340.36 L493.50,340.48 L494.00,339.85 L494.50,339.90 L495.00,339.97 L495.50,340.22 L496.00,340.37 L496.50,339.60 L497.00,339.75 L497.50,339.63 L498.00,339.62 L498.50,339.49 L499.00,339.99 L499.50,339.61 L500.00,340.27 L500.50,340.13 L501.00,339.64 L501.50,339.64 L502.00,339.75 L502.50,340.25 L503.00,339.69 L503.50,339.52 L504.00,339.89 L504.50,339.99 L505.00,339.73 L505.50,340.30 L506.00,339.96 L506.50,340.01 L507.00,339.68 L507.50,339.89 L508.00,339.86 L508.50,339.33 L509.00,339.97 L509.50,339.45 L510.00,339.89 L510.50,339.53 L511.00,340.40 L511.50,339.97 L512.00,340.11 L512.50,340.12 L513.00,339.56 L513.50,339.32 L514.00,339.81 L514.50,340.11 L515.00,339.91 L515.50,340.08 L516.00,340.12 L516.50,339.51 L517.00,339.95 L517.50,340.37 L518.00,339.74 L518.50,339.37 L519.00,339.82 L519.50,339.76 L520.00,339.97 L520.50,339.64 L521.00,339.89 L521.50,339.31 L522.00,340.07 L522.50,340.25 L523.00,340.18 L523.50,339.47 L524.00,339.92 L524.50,339.09 L525.00,339.91 L525.50,339.81 L526.00,339.58 L526.50,339.90 L527.00,339.85 L527.50,340.04 L528.00,339.83 L528.50,339.85 L529.00,339.30 L529.50,339.48 L530.00,339.64 L530.50,339.83 L531.00,339.74 L531.50,340.11 L532.00,339.50 L532.50,339.65 L533.00,339.75 L533.50,339.62 L534.00,339.78 L534.50,339.50 L535.00,339.98 L535.50,339.52 L536.00,339.86 L536.50,339.55 L537.00,339.91 L537.50,339.16 L538.00,339.61 L538.50,339.35 L539.00,339.48 L539.50,339.69 L540.00,339.07 L540.50,338.99 L541.00,339.03 L541.50,339.31 L542.00,338.73 L542.50,339.18 L543.00,338.79 L543.50,338.77 L544.00,338.91 L544.50,339.04 L545.00,338.73 L545.50,338.70 L546.00,338.75 L546.50,338.62 L547.00,337.94 L547.50,338.43 L548.00,338.47 L548.50,338.64 L549.00,338.79 L549.50,338.35 L550.00,338.10 L550.50,337.74 L551.00,337.89 L551.50,337.95 L552.00,337.95 L552.50,337.29 L553.00,337.44 L553.50,337.44 L554.00,337.56 L554.50,337.01 L555.00,336.66 L555.50,336.46 L556.00,336.37 L556.50,336.12 L557.00,336.31 L557.50,336.18 L558.00,335.89 L558.50,335.80 L559.00,335.18 L559.50,335.16 L560.00,334.74 L560.50,334.61 L561.00,334.66 L561.50,334.09 L562.00,333.36 L562.50,333.49 L563.00,333.09 L563.50,332.60 L564.00,332.48 L564.50,332.60 L565.00,332.46 L565.50,331.59 L566.00,331.61 L566.50,331.30 L567.00,330.35 L567.50,330.26 L568.00,329.86 L568.50,329.52 L569.00,328.66 L569.50,328.54 L570.00,328.45 L570.50,328.05 L571.00,327.72 L571.50,326.69 L572.00,326.74 L572.50,325.92 L573.00,324.87 L573.50,324.85 L574.00,323.99 L574.50,323.60 L575.00,322.82 L575.50,322.50 L576.00,321.58 L576.50,320.74 L577.00,320.32 L577.50,319.37 L578.00,318.39 L578.50,317.97 L579.00,316.66 L579.50,315.67 L580.00,314.72 L580.50,313.45 L581.00,312.60 L581.50,312.06 L582.00,310.16 L582.50,309.12 L583.00,307.50 L583.50,306.21 L584.00,305.25 L584.50,303.53 L585.00,301.49 L585.50,299.90 L586.00,297.86 L586.50,295.94 L587.00,293.87 L587.50,291.75 L588.00,289.82 L588.50,287.55 L589.00,285.09 L589.50,282.38 L590.00,279.44 L590.50,277.01 L591.00,273.96 L591.50,271.47 L592.00,268.37 L592.50,265.32 L593.00,261.87 L593.50,258.26 L594.00,255.67 L594.50,252.40 L595.00,248.37 L595.50,245.41 L596.00,242.32 L596.50,238.42 L597.00,235.84 L597.50,232.08 L598.00,228.76 L598.50,226.34 L599.00,223.16 L599.50,220.18 L600.00,218.00 L600.50,214.93 L601.00,213.74 L601.50,211.21 L602.00,209.90 L602.50,208.44 L603.00,207.71 L603.50,207.25 L604.00,206.68 L604.50,207.49 L605.00,208.09 L605.50,209.24 L606.00,210.96 L606.50,212.67 L607.00,214.92 L607.50,217.82 L608.00,220.24 L608.50,223.46 L609.00,226.36 L609.50,229.23 L610.00,232.38 L610.50,236.16 L611.00,239.96 L611.50,243.51 L612.00,246.96 L612.50,251.10 L613.00,254.09 L613.50,257.87 L614.00,261.85 L614.50,265.94 L615.00,269.01 L615.50,272.10 L616.00,275.87 L616.50,279.16 L617.00,282.39 L617.50,285.12 L618.00,287.98 L618.50,291.05 L619.00,293.85 L619.50,296.75 L620.00,299.36 L620.50,301.03 L621.00,303.34 L621.50,305.59 L622.00,307.57 L622.50,309.67 L623.00,311.48 L623.50,313.13 L624.00,315.01 L624.50,316.15 L625.00,317.35 L625.50,318.56 L626.00,319.94 L626.50,321.12 L627.00,322.01 L627.50,323.68 L628.00,324.52 L628.50,325.28 L629.00,326.01 L629.50,326.63 L630.00,327.54 L630.50,328.92 L631.00,328.56 L631.50,329.76 L632.00,330.48 L632.50,330.87 L633.00,331.26 L633.50,332.00 L634.00,331.98 L634.50,332.81 L635.00,333.43 L635.50,333.18 L636.00,333.58 L636.50,334.15 L637.00,334.68 L637.50,335.06 L638.00,335.17 L638.50,335.10 L639.00,335.23 L639.50,335.81 L640.00,336.07 L640.50,335.90 L641.00,336.39 L641.50,336.65 L642.00,337.01 L642.50,336.67 L643.00,337.22 L643.50,336.94 L644.00,337.27 L644.50,337.50 L645.00,338.03 L645.50,338.60 L646.00,337.96 L646.50,338.13 L647.00,338.36 L647.50,337.87 L648.00,338.50 L648.50,338.09 L649.00,338.89 L649.50,338.93 L650.00,338.77 L650.50,338.52 L651.00,339.20 L651.50,338.92 L652.00,338.94 L652.50,339.12 L653.00,338.60 L653.50,339.19 L654.00,339.38 L654.50,339.27 L655.00,339.26 L655.50,339.03 L656.00,339.47 L656.50,339.39 L657.00,339.38 L657.50,339.27 L658.00,339.66 L658.50,339.78 L659.00,339.60 L659.50,339.75 L660.00,339.88 L660.50,339.97 L661.00,339.65 L661.50,339.56 L662.00,339.53 L662.50,339.66 L663.00,339.81 L663.50,339.92 L664.00,339.59 L664.50,339.75 L665.00,339.48 L665.50,340.05 L666.00,339.65 L666.50,339.85 L667.00,339.59 L667.50,339.70 L668.00,339.62 L668.50,340.22 L669.00,339.89 L669.50,339.77 L670.00,339.58 L670.50,339.67 L671.00,339.97 L671.50,340.25 L672.00,339.48 L672.50,339.61 L673.00,339.80 L673.50,339.69 L674.00,339.44 L674.50,339.86" fill="none" stroke="#dc1c1c" stroke-width="1.9" stroke-linejoin="round"/>
<rect x="485.5" y="194.5" width="190.0" height="150.0" fill="none" stroke="#606060" stroke-width="1.1"/>
<line x1="485.5" y1="344.5" x2="675.5" y2="344.5" stroke="#333" stroke-width="1.2"/>
<text x="485.5" y="354.4" font-size="10" fill="#333" text-anchor="middle" >1.6</text>
<line x1="517.1666666666666" y1="344.5" x2="517.1666666666666" y2="342.9" stroke="#555" stroke-width="1"/>
<line x1="548.8333333333334" y1="344.5" x2="548.8333333333334" y2="342.0" stroke="#555" stroke-width="1"/>
<text x="548.8333333333334" y="354.4" font-size="10" fill="#333" text-anchor="middle" >1.8</text>
<line x1="580.5" y1="344.5" x2="580.5" y2="342.9" stroke="#555" stroke-width="1"/>
<line x1="612.1666666666666" y1="344.5" x2="612.1666666666666" y2="342.0" stroke="#555" stroke-width="1"/>
<text x="612.1666666666666" y="354.4" font-size="10" fill="#333" text-anchor="middle" >2.0</text>
<line x1="643.8333333333334" y1="344.5" x2="643.8333333333334" y2="342.9" stroke="#555" stroke-width="1"/>
<text x="675.5" y="354.4" font-size="10" fill="#333" text-anchor="middle" >2.2</text>
<text x="491.3" y="211" font-size="14" fill="#222" text-anchor="start" >(e)</text>
<text x="611.7" y="206.8" font-size="10.5" fill="#e02828" text-anchor="start" >A</text>
<text x="591.5" y="330.2" font-size="10" fill="#222" text-anchor="start" >B</text>
<text x="586" y="376.3" font-size="13.6" fill="#222" text-anchor="middle" >Energy (eV)</text>
<text x="0" y="0" font-size="13.6" fill="#222" text-anchor="middle" transform="translate(475,269.7) rotate(-90)">PL intensity (a.u.)</text>
</svg></body></html>
